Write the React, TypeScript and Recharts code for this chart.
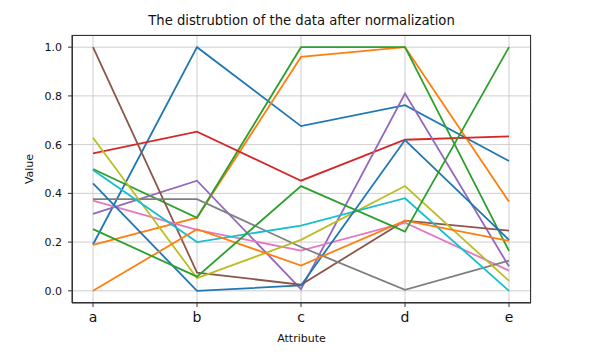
import { LineChart, Line, XAxis, YAxis, CartesianGrid } from 'recharts';

const attributes = ['a', 'b', 'c', 'd', 'e'];
const yTicks = [0, 0.2, 0.4, 0.6, 0.8, 1.0];

// one array per plotted row, in matplotlib's draw order
const blue1 = [0.19, 1.0, 0.676, 0.762, 0.533];
const orange1 = [0.189, 0.3, 0.96, 1.0, 0.366];
const green1 = [0.5, 0.3, 1.0, 1.0, 0.164];
const red = [0.564, 0.653, 0.452, 0.62, 0.634];
const purple = [0.316, 0.452, 0.007, 0.81, 0.1];
const brown = [1.0, 0.075, 0.025, 0.288, 0.247];
const pink = [0.37, 0.25, 0.165, 0.28, 0.083];
const gray = [0.376, 0.376, 0.18, 0.004, 0.124];
const olive = [0.628, 0.052, 0.209, 0.43, 0.041];
const cyan = [0.496, 0.2, 0.268, 0.38, 0.0];
const blue2 = [0.441, 0.0, 0.022, 0.619, 0.209];
const orange2 = [0.0, 0.253, 0.104, 0.288, 0.205];
const green2 = [0.253, 0.058, 0.43, 0.243, 1.0];

const series = [
    { key: 's0', values: blue1, color: '#1f77b4' },
    { key: 's1', values: orange1, color: '#ff7f0e' },
    { key: 's2', values: green1, color: '#2ca02c' },
    { key: 's3', values: red, color: '#d62728' },
    { key: 's4', values: purple, color: '#9467bd' },
    { key: 's5', values: brown, color: '#8c564b' },
    { key: 's6', values: pink, color: '#e377c2' },
    { key: 's7', values: gray, color: '#7f7f7f' },
    { key: 's8', values: olive, color: '#bcbd22' },
    { key: 's9', values: cyan, color: '#17becf' },
    { key: 's10', values: blue2, color: '#1f77b4' },
    { key: 's11', values: orange2, color: '#ff7f0e' },
    { key: 's12', values: green2, color: '#2ca02c' },
];

const data = attributes.map((attr, i) => {
    const row: Record<string, string | number> = { attr };
    series.forEach((s) => {
        row[s.key] = s.values[i];
    });
    return row;
});

const font = '"DejaVu Sans", sans-serif';

export default function App() {
    return (
        <div style={{ position: 'absolute', left: 0, top: 0, width: 591, height: 363, background: '#fff', fontFamily: font }}>
            <div style={{ position: 'absolute', left: 72, width: 459, top: 13, textAlign: 'center', fontSize: 13.2, color: '#111', lineHeight: '16px' }}>
                The distrubtion of the data after normalization
            </div>
            <div style={{ position: 'absolute', left: 72, width: 459, top: 332, textAlign: 'center', fontSize: 11, color: '#111', lineHeight: '14px' }}>
                Attribute
            </div>
            <div
                style={{
                    position: 'absolute',
                    left: 30,
                    top: 169,
                    transform: 'translate(-50%, -50%) rotate(-90deg)',
                    fontSize: 11,
                    color: '#111',
                    lineHeight: '14px',
                }}
            >
                Value
            </div>
            <LineChart width={591} height={363} data={data} margin={{ top: 35, right: 60, bottom: 30, left: 0 }}>
                <CartesianGrid stroke="#c8c8c8" strokeWidth={0.9} />
                <XAxis
                    dataKey="attr"
                    padding={{ left: 21, right: 22 }}
                    height={30}
                    tickSize={4}
                    tickMargin={5}
                    stroke="#333"
                    tick={{ fill: '#111', fontSize: 14, fontFamily: font }}
                />
                <YAxis
                    type="number"
                    domain={[-0.05, 1.05]}
                    ticks={yTicks}
                    width={72}
                    tickSize={4}
                    tickMargin={6}
                    stroke="#333"
                    tickFormatter={(v: number) => v.toFixed(1)}
                    tick={{ fill: '#111', fontSize: 11, fontFamily: font }}
                />
                {series.map((s) => (
                    <Line
                        key={s.key}
                        dataKey={s.key}
                        stroke={s.color}
                        strokeWidth={1.8}
                        dot={false}
                        isAnimationActive={false}
                    />
                ))}
            </LineChart>
            {/* axes frame (matplotlib spines) */}
            <div
                style={{
                    position: 'absolute',
                    left: 72,
                    top: 35,
                    width: 459,
                    height: 268,
                    boxSizing: 'border-box',
                    border: '1px solid #333',
                    pointerEvents: 'none',
                }}
            />
        </div>
    );
}
